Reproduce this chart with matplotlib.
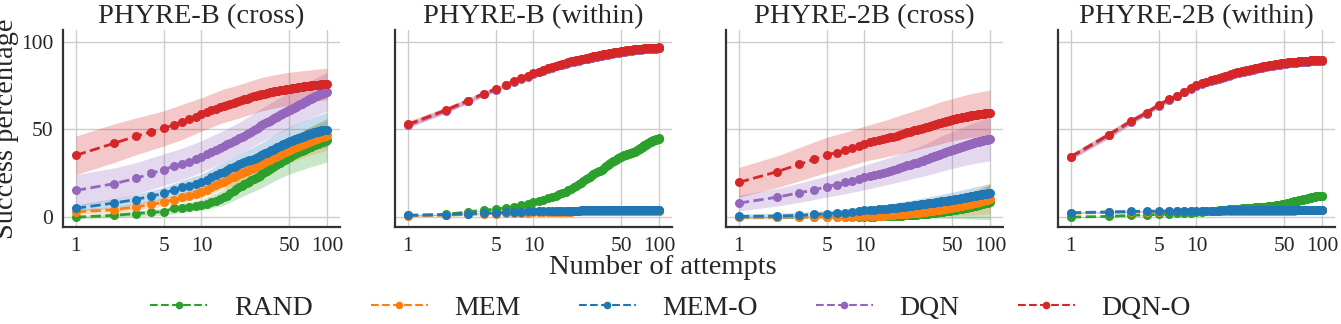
import numpy as np
import matplotlib
matplotlib.use("Agg")
import matplotlib.pyplot as plt
from matplotlib.lines import Line2D
from matplotlib.ticker import FixedLocator, NullLocator

# x values: attempt number 1..100
attempts = np.arange(1, 101)
band_attempts = [1, 2, 3, 5, 7, 10, 15, 20, 30, 40, 50, 70, 100]

methods = ["RAND", "MEM", "MEM-O", "DQN", "DQN-O"]
colors = ["#2ca02c", "#ff7f0e", "#1f77b4", "#9467bd", "#d62728"]
titles = ["PHYRE-B (cross)", "PHYRE-B (within)", "PHYRE-2B (cross)", "PHYRE-2B (within)"]

# ---------------- PHYRE-B (cross) ----------------
b_cross_rand = [
    0.0, 1.0, 2.0, 2.8, 3.0, 5.0, 5.4, 6.0, 6.6, 7.0,
    7.6, 8.4, 9.3, 10.2, 11.2, 12.3, 13.5, 14.7, 15.9, 17.0,
    17.8, 18.6, 19.4, 20.2, 21.0, 21.7, 22.4, 23.0, 23.6, 24.3,
    25.0, 25.8, 26.5, 27.0, 27.4, 27.9, 28.5, 29.1, 29.6, 30.1,
    30.6, 31.1, 31.5, 32.0, 32.4, 32.8, 33.2, 33.5, 33.8, 34.1,
    34.4, 34.8, 35.1, 35.4, 35.7, 36.0, 36.3, 36.6, 36.9, 37.1,
    37.4, 37.6, 37.9, 38.1, 38.3, 38.5, 38.8, 39.0, 39.2, 39.4,
    39.6, 39.8, 40.0, 40.2, 40.4, 40.6, 40.8, 41.0, 41.1, 41.3,
    41.5, 41.6, 41.8, 41.9, 42.1, 42.2, 42.4, 42.5, 42.7, 42.8,
    42.9, 43.0, 43.1, 43.2, 43.3, 43.4, 43.5, 43.6, 43.7, 43.8]
b_cross_mem = [
    3.0, 4.2, 5.8, 7.2, 8.6, 10.0, 11.2, 12.2, 13.2, 14.2,
    15.6, 16.9, 18.1, 19.2, 20.2, 21.2, 22.1, 22.9, 23.7, 24.5,
    25.1, 25.8, 26.4, 27.0, 27.6, 28.2, 28.8, 29.4, 29.9, 30.5,
    31.0, 31.4, 31.9, 32.3, 32.8, 33.2, 33.6, 34.0, 34.4, 34.8,
    35.2, 35.6, 35.9, 36.3, 36.6, 36.9, 37.2, 37.5, 37.8, 38.1,
    38.4, 38.7, 39.0, 39.2, 39.5, 39.7, 40.0, 40.2, 40.4, 40.6,
    40.9, 41.1, 41.3, 41.5, 41.7, 41.9, 42.1, 42.3, 42.5, 42.7,
    42.9, 43.0, 43.2, 43.4, 43.5, 43.7, 43.8, 44.0, 44.1, 44.3,
    44.4, 44.6, 44.7, 44.9, 45.0, 45.1, 45.3, 45.4, 45.5, 45.6,
    45.7, 45.8, 45.9, 46.0, 46.1, 46.2, 46.3, 46.4, 46.5, 46.6]
b_cross_memo = [
    5.0, 8.0, 10.0, 12.0, 13.5, 15.5, 17.0, 18.0, 19.0, 20.0,
    21.4, 22.6, 23.8, 24.9, 25.9, 26.8, 27.7, 28.5, 29.3, 30.0,
    30.6, 31.2, 31.8, 32.3, 32.8, 33.3, 33.8, 34.3, 34.8, 35.3,
    35.8, 36.3, 36.8, 37.2, 37.6, 38.0, 38.5, 38.9, 39.3, 39.7,
    40.0, 40.4, 40.7, 41.1, 41.4, 41.7, 42.0, 42.3, 42.6, 42.9,
    43.1, 43.4, 43.6, 43.8, 44.1, 44.3, 44.5, 44.7, 44.9, 45.1,
    45.3, 45.5, 45.7, 45.9, 46.1, 46.3, 46.4, 46.6, 46.8, 46.9,
    47.1, 47.2, 47.4, 47.5, 47.7, 47.8, 47.9, 48.1, 48.2, 48.3,
    48.4, 48.5, 48.6, 48.7, 48.8, 48.9, 49.0, 49.1, 49.2, 49.3,
    49.4, 49.4, 49.5, 49.5, 49.6, 49.6, 49.7, 49.7, 49.8, 49.8]
b_cross_dqn = [
    15.2, 19.0, 22.0, 25.0, 27.0, 29.0, 30.3, 31.5, 33.0, 34.5,
    35.8, 37.1, 38.3, 39.4, 40.4, 41.4, 42.4, 43.3, 44.2, 45.0,
    45.7, 46.4, 47.2, 47.9, 48.7, 49.5, 50.3, 51.0, 51.7, 52.4,
    52.9, 53.4, 53.9, 54.4, 54.9, 55.4, 55.9, 56.4, 56.8, 57.3,
    57.7, 58.1, 58.5, 58.9, 59.3, 59.7, 60.0, 60.3, 60.6, 60.9,
    61.2, 61.5, 61.8, 62.1, 62.4, 62.7, 63.0, 63.3, 63.6, 63.9,
    64.2, 64.5, 64.7, 65.0, 65.3, 65.5, 65.8, 66.0, 66.3, 66.5,
    66.8, 67.0, 67.2, 67.5, 67.7, 67.9, 68.1, 68.3, 68.5, 68.7,
    68.9, 69.1, 69.2, 69.4, 69.6, 69.7, 69.9, 70.0, 70.2, 70.3,
    70.4, 70.5, 70.6, 70.7, 70.8, 70.9, 71.0, 71.1, 71.2, 71.3]
b_cross_dqno = [
    35.2, 42.0, 46.0, 48.7, 50.5, 52.5, 54.2, 55.8, 57.2, 58.5,
    59.7, 60.8, 61.8, 62.7, 63.4, 64.0, 64.6, 65.1, 65.6, 66.0,
    66.5, 67.0, 67.5, 67.9, 68.3, 68.7, 69.0, 69.4, 69.7, 70.0,
    70.2, 70.4, 70.6, 70.8, 71.0, 71.2, 71.4, 71.6, 71.7, 71.9,
    72.0, 72.2, 72.3, 72.4, 72.5, 72.6, 72.7, 72.8, 72.9, 73.0,
    73.1, 73.2, 73.3, 73.4, 73.5, 73.6, 73.7, 73.8, 73.9, 74.0,
    74.1, 74.1, 74.2, 74.3, 74.4, 74.4, 74.5, 74.6, 74.6, 74.7,
    74.8, 74.8, 74.9, 74.9, 75.0, 75.0, 75.1, 75.1, 75.2, 75.2,
    75.3, 75.3, 75.4, 75.4, 75.4, 75.5, 75.5, 75.5, 75.6, 75.6,
    75.6, 75.7, 75.7, 75.7, 75.8, 75.8, 75.8, 75.8, 75.9, 75.9]
b_cross_rand_sd = [0.8, 1.2, 1.5, 2.0, 2.5, 3.0, 4.5, 6.0, 7.6, 8.6, 9.6, 11.3, 12.5]
b_cross_mem_sd = [1.5, 1.8, 2.0, 2.4, 2.8, 3.2, 4.2, 5.2, 6.2, 6.7, 7.2, 7.9, 8.5]
b_cross_memo_sd = [2.0, 2.5, 3.0, 3.5, 4.0, 4.5, 5.5, 6.0, 7.0, 8.0, 8.5, 9.0, 10.0]
b_cross_dqn_sd = [9.0, 9.0, 9.0, 9.0, 9.0, 9.0, 9.0, 9.0, 9.5, 10.0, 10.0, 10.5, 11.0]
b_cross_dqno_sd = [11.0, 11.0, 10.5, 10.0, 10.0, 9.5, 9.5, 9.5, 9.5, 9.5, 9.5, 9.0, 9.0]

# ---------------- PHYRE-B (within) ----------------
b_within_rand = [
    1.0, 1.5, 3.0, 4.0, 4.5, 5.3, 6.0, 6.8, 7.5, 8.5,
    9.2, 9.9, 10.7, 11.4, 12.1, 12.9, 13.7, 14.5, 15.3, 16.1,
    17.0, 17.9, 18.8, 19.7, 20.6, 21.5, 22.3, 23.1, 23.8, 24.5,
    25.0, 25.5, 26.0, 26.5, 27.0, 27.6, 28.3, 29.0, 29.6, 30.2,
    30.7, 31.2, 31.7, 32.2, 32.6, 33.0, 33.4, 33.7, 34.0, 34.3,
    34.6, 34.9, 35.1, 35.3, 35.5, 35.7, 35.9, 36.1, 36.3, 36.5,
    36.7, 36.9, 37.1, 37.3, 37.5, 37.8, 38.1, 38.4, 38.7, 39.0,
    39.3, 39.6, 39.9, 40.2, 40.5, 40.8, 41.0, 41.3, 41.5, 41.8,
    42.0, 42.2, 42.4, 42.6, 42.8, 43.0, 43.2, 43.4, 43.6, 43.8,
    43.9, 44.0, 44.1, 44.2, 44.3, 44.4, 44.5, 44.6, 44.7, 44.8]
b_within_mem = [
    0.8, 1.1, 1.5, 1.8, 2.0, 2.2, 2.4, 2.5, 2.6, 2.7,
    2.8, 2.8, 2.9, 2.9, 3.0, 3.0, 3.0, 3.1, 3.1, 3.1,
    3.2, 3.2, 3.2, 3.2, 3.2, 3.2, 3.2, 3.2, 3.2, 3.2,
    3.3, 3.3, 3.3, 3.3, 3.3, 3.3, 3.3, 3.3, 3.3, 3.3,
    3.4, 3.4, 3.4, 3.4, 3.4, 3.4, 3.4, 3.4, 3.4, 3.4,
    3.5, 3.5, 3.5, 3.5, 3.5, 3.5, 3.5, 3.5, 3.5, 3.5,
    3.5, 3.5, 3.5, 3.5, 3.5, 3.5, 3.5, 3.5, 3.5, 3.5,
    3.6, 3.6, 3.6, 3.6, 3.6, 3.6, 3.6, 3.6, 3.6, 3.6,
    3.6, 3.6, 3.6, 3.6, 3.6, 3.6, 3.6, 3.6, 3.6, 3.6,
    3.6, 3.6, 3.6, 3.6, 3.6, 3.6, 3.6, 3.6, 3.6, 3.6]
b_within_memo = [
    1.0, 1.4, 2.0, 2.3, 2.6, 2.8, 3.0, 3.1, 3.2, 3.3,
    3.3, 3.4, 3.4, 3.5, 3.5, 3.5, 3.6, 3.6, 3.6, 3.7,
    3.7, 3.7, 3.7, 3.8, 3.8, 3.8, 3.8, 3.8, 3.9, 3.9,
    3.9, 3.9, 3.9, 3.9, 3.9, 3.9, 4.0, 4.0, 4.0, 4.0,
    4.0, 4.0, 4.0, 4.0, 4.0, 4.0, 4.0, 4.1, 4.1, 4.1,
    4.1, 4.1, 4.1, 4.1, 4.1, 4.1, 4.1, 4.1, 4.1, 4.1,
    4.1, 4.1, 4.1, 4.1, 4.1, 4.2, 4.2, 4.2, 4.2, 4.2,
    4.2, 4.2, 4.2, 4.2, 4.2, 4.2, 4.2, 4.2, 4.2, 4.2,
    4.2, 4.2, 4.2, 4.2, 4.2, 4.2, 4.2, 4.2, 4.2, 4.2,
    4.2, 4.2, 4.2, 4.2, 4.2, 4.2, 4.2, 4.2, 4.2, 4.2]
b_within_dqn = [
    52.3, 60.5, 65.9, 69.9, 72.5, 75.0, 76.9, 78.5, 79.9, 81.3,
    82.4, 83.4, 84.3, 85.1, 85.8, 86.4, 86.9, 87.4, 87.8, 88.2,
    88.6, 88.9, 89.2, 89.5, 89.8, 90.1, 90.3, 90.6, 90.8, 91.0,
    91.2, 91.4, 91.6, 91.8, 92.0, 92.2, 92.3, 92.5, 92.6, 92.8,
    92.9, 93.0, 93.2, 93.3, 93.4, 93.5, 93.6, 93.7, 93.8, 93.9,
    94.0, 94.1, 94.2, 94.3, 94.4, 94.5, 94.5, 94.6, 94.7, 94.8,
    94.8, 94.9, 95.0, 95.0, 95.1, 95.1, 95.2, 95.2, 95.3, 95.3,
    95.4, 95.4, 95.5, 95.5, 95.5, 95.6, 95.6, 95.6, 95.7, 95.7,
    95.7, 95.8, 95.8, 95.8, 95.8, 95.9, 95.9, 95.9, 95.9, 96.0,
    96.0, 96.0, 96.0, 96.0, 96.1, 96.1, 96.1, 96.1, 96.1, 96.2]
b_within_dqno = [
    52.8, 61.0, 66.4, 70.4, 73.0, 75.5, 77.4, 79.0, 80.4, 81.8,
    82.9, 83.9, 84.8, 85.6, 86.3, 86.9, 87.4, 87.9, 88.3, 88.7,
    89.1, 89.4, 89.7, 90.0, 90.3, 90.6, 90.8, 91.1, 91.3, 91.5,
    91.7, 91.9, 92.1, 92.3, 92.5, 92.7, 92.8, 93.0, 93.1, 93.3,
    93.4, 93.5, 93.7, 93.8, 93.9, 94.0, 94.1, 94.2, 94.3, 94.4,
    94.5, 94.6, 94.7, 94.8, 94.9, 95.0, 95.0, 95.1, 95.2, 95.3,
    95.3, 95.4, 95.5, 95.5, 95.6, 95.6, 95.7, 95.7, 95.8, 95.8,
    95.9, 95.9, 96.0, 96.0, 96.0, 96.1, 96.1, 96.1, 96.2, 96.2,
    96.2, 96.3, 96.3, 96.3, 96.3, 96.4, 96.4, 96.4, 96.4, 96.5,
    96.5, 96.5, 96.5, 96.5, 96.6, 96.6, 96.6, 96.6, 96.6, 96.7]
b_within_rand_sd = [0.3, 0.4, 0.5, 0.6, 0.6, 0.7, 0.8, 0.9, 1.0, 1.0, 1.1, 1.2, 1.2]
b_within_mem_sd = [0.3, 0.3, 0.4, 0.4, 0.4, 0.4, 0.4, 0.4, 0.4, 0.4, 0.4, 0.4, 0.4]
b_within_memo_sd = [0.4, 0.4, 0.4, 0.5, 0.5, 0.5, 0.5, 0.5, 0.5, 0.5, 0.5, 0.5, 0.5]
b_within_dqn_sd = [1.5, 1.4, 1.3, 1.2, 1.1, 1.0, 0.9, 0.8, 0.7, 0.7, 0.6, 0.6, 0.6]
b_within_dqno_sd = [1.8, 1.6, 1.5, 1.3, 1.2, 1.1, 1.0, 0.9, 0.8, 0.7, 0.7, 0.6, 0.6]

# ---------------- PHYRE-2B (cross) ----------------
b2_cross_rand = [
    0.0, 0.0, 0.0, 0.1, 0.1, 0.1, 0.1, 0.2, 0.2, 0.2,
    0.3, 0.3, 0.4, 0.4, 0.5, 0.6, 0.6, 0.7, 0.8, 0.9,
    1.0, 1.1, 1.2, 1.3, 1.4, 1.4, 1.5, 1.6, 1.7, 1.8,
    1.9, 2.0, 2.1, 2.2, 2.3, 2.4, 2.5, 2.7, 2.8, 2.9,
    3.0, 3.1, 3.2, 3.3, 3.4, 3.5, 3.6, 3.7, 3.8, 3.9,
    4.0, 4.1, 4.2, 4.3, 4.4, 4.5, 4.6, 4.7, 4.8, 4.9,
    5.0, 5.1, 5.2, 5.3, 5.4, 5.5, 5.6, 5.7, 5.8, 5.9,
    6.0, 6.1, 6.2, 6.3, 6.4, 6.5, 6.6, 6.7, 6.8, 6.9,
    7.0, 7.1, 7.2, 7.3, 7.4, 7.5, 7.6, 7.7, 7.8, 7.9,
    8.0, 8.0, 8.1, 8.2, 8.2, 8.3, 8.4, 8.4, 8.5, 8.6]
b2_cross_mem = [
    0.0, 0.0, 0.1, 0.1, 0.2, 0.2, 0.3, 0.3, 0.4, 0.5,
    0.6, 0.7, 0.8, 0.9, 1.0, 1.2, 1.3, 1.5, 1.6, 1.8,
    1.9, 2.0, 2.1, 2.3, 2.4, 2.5, 2.6, 2.7, 2.9, 3.0,
    3.1, 3.3, 3.4, 3.5, 3.7, 3.8, 3.9, 4.1, 4.2, 4.3,
    4.4, 4.6, 4.7, 4.8, 4.9, 5.0, 5.1, 5.2, 5.4, 5.5,
    5.6, 5.7, 5.8, 5.9, 6.0, 6.2, 6.3, 6.4, 6.5, 6.6,
    6.7, 6.8, 6.9, 7.0, 7.1, 7.2, 7.3, 7.4, 7.5, 7.6,
    7.7, 7.8, 7.9, 8.0, 8.1, 8.2, 8.3, 8.4, 8.5, 8.6,
    8.7, 8.8, 8.9, 9.0, 9.1, 9.2, 9.3, 9.4, 9.5, 9.6,
    9.7, 9.8, 9.8, 9.9, 10.0, 10.1, 10.2, 10.2, 10.3, 10.4]
b2_cross_memo = [
    0.4, 0.6, 1.0, 1.5, 2.0, 2.3, 2.6, 3.0, 3.4, 3.8,
    4.0, 4.2, 4.4, 4.6, 4.8, 5.0, 5.2, 5.4, 5.6, 5.8,
    6.0, 6.2, 6.4, 6.5, 6.7, 6.9, 7.0, 7.2, 7.3, 7.5,
    7.6, 7.8, 7.9, 8.0, 8.2, 8.3, 8.4, 8.5, 8.7, 8.8,
    8.9, 9.0, 9.1, 9.2, 9.3, 9.4, 9.5, 9.6, 9.7, 9.8,
    9.9, 10.0, 10.1, 10.2, 10.3, 10.4, 10.5, 10.6, 10.7, 10.8,
    10.9, 11.0, 11.1, 11.2, 11.3, 11.4, 11.5, 11.6, 11.7, 11.8,
    11.9, 12.0, 12.0, 12.1, 12.2, 12.3, 12.3, 12.4, 12.5, 12.6,
    12.6, 12.7, 12.8, 12.8, 12.9, 13.0, 13.0, 13.1, 13.1, 13.2,
    13.2, 13.3, 13.3, 13.4, 13.4, 13.5, 13.5, 13.6, 13.6, 13.7]
b2_cross_dqn = [
    8.0, 11.3, 13.8, 15.5, 17.4, 18.5, 19.8, 20.8, 21.7, 22.6,
    23.3, 24.0, 24.7, 25.3, 25.9, 26.5, 27.0, 27.5, 28.0, 28.5,
    29.0, 29.4, 29.8, 30.3, 30.7, 31.1, 31.5, 31.8, 32.2, 32.5,
    32.9, 33.3, 33.6, 34.0, 34.3, 34.6, 35.0, 35.3, 35.6, 35.9,
    36.2, 36.4, 36.7, 36.9, 37.2, 37.4, 37.6, 37.8, 38.0, 38.2,
    38.4, 38.6, 38.8, 39.0, 39.2, 39.4, 39.6, 39.8, 40.0, 40.1,
    40.3, 40.5, 40.6, 40.8, 41.0, 41.1, 41.3, 41.4, 41.6, 41.7,
    41.8, 42.0, 42.1, 42.2, 42.4, 42.5, 42.6, 42.7, 42.8, 42.9,
    43.0, 43.1, 43.2, 43.3, 43.4, 43.5, 43.6, 43.7, 43.8, 43.9,
    44.0, 44.0, 44.1, 44.2, 44.2, 44.3, 44.4, 44.4, 44.5, 44.5]
b2_cross_dqno = [
    19.8, 25.8, 30.0, 33.0, 35.5, 36.8, 38.3, 39.6, 40.5, 41.8,
    42.5, 43.2, 43.8, 44.4, 44.9, 45.4, 45.9, 46.4, 46.9, 47.4,
    47.8, 48.2, 48.6, 49.0, 49.4, 49.7, 50.0, 50.3, 50.6, 50.9,
    51.2, 51.5, 51.8, 52.1, 52.4, 52.7, 52.9, 53.1, 53.4, 53.6,
    53.8, 54.0, 54.2, 54.4, 54.6, 54.8, 55.0, 55.1, 55.3, 55.5,
    55.6, 55.8, 55.9, 56.0, 56.2, 56.3, 56.4, 56.5, 56.7, 56.8,
    56.9, 57.0, 57.1, 57.2, 57.3, 57.4, 57.5, 57.6, 57.7, 57.8,
    57.9, 57.9, 58.0, 58.1, 58.2, 58.2, 58.3, 58.4, 58.4, 58.5,
    58.6, 58.6, 58.7, 58.7, 58.8, 58.8, 58.9, 58.9, 59.0, 59.0,
    59.1, 59.1, 59.2, 59.2, 59.2, 59.3, 59.3, 59.3, 59.4, 59.4]
b2_cross_rand_sd = [0.1, 0.1, 0.1, 0.2, 0.3, 0.4, 0.8, 1.2, 2.5, 3.5, 4.5, 7.0, 10.0]
b2_cross_mem_sd = [0.2, 0.2, 0.3, 0.4, 0.5, 0.6, 1.0, 1.5, 2.5, 3.5, 4.5, 6.5, 8.5]
b2_cross_memo_sd = [1.5, 1.6, 1.7, 1.8, 2.0, 2.2, 2.6, 3.0, 3.5, 4.0, 4.3, 4.8, 5.5]
b2_cross_dqn_sd = [4.5, 5.0, 5.5, 6.0, 6.5, 7.0, 7.5, 8.0, 9.0, 10.0, 10.5, 11.5, 12.5]
b2_cross_dqno_sd = [8.5, 9.0, 9.5, 10.0, 10.0, 10.0, 10.5, 11.0, 11.5, 12.0, 12.0, 12.5, 13.0]

# ---------------- PHYRE-2B (within) ----------------
b2_within_rand = [
    0.0, 0.4, 1.0, 1.3, 1.5, 1.8, 2.1, 2.3, 2.6, 2.8,
    3.0, 3.2, 3.4, 3.6, 3.8, 4.0, 4.2, 4.4, 4.5, 4.7,
    4.8, 4.9, 5.0, 5.1, 5.2, 5.3, 5.3, 5.4, 5.5, 5.5,
    5.6, 5.7, 5.8, 5.8, 5.9, 6.0, 6.1, 6.2, 6.3, 6.4,
    6.5, 6.6, 6.7, 6.8, 6.9, 7.0, 7.1, 7.2, 7.3, 7.4,
    7.6, 7.7, 7.9, 8.0, 8.2, 8.3, 8.5, 8.6, 8.8, 8.9,
    9.0, 9.1, 9.3, 9.4, 9.5, 9.6, 9.7, 9.8, 9.9, 10.0,
    10.1, 10.2, 10.3, 10.4, 10.5, 10.6, 10.7, 10.8, 10.9, 11.0,
    11.1, 11.2, 11.3, 11.4, 11.5, 11.5, 11.6, 11.7, 11.8, 11.8,
    11.9, 11.9, 12.0, 12.0, 12.1, 12.1, 12.2, 12.2, 12.3, 12.3]
b2_within_mem = [
    2.2, 2.7, 2.9, 3.1, 3.1, 3.2, 3.2, 3.3, 3.3, 3.3,
    3.4, 3.4, 3.4, 3.4, 3.4, 3.4, 3.4, 3.4, 3.4, 3.4,
    3.5, 3.5, 3.5, 3.5, 3.5, 3.5, 3.5, 3.5, 3.5, 3.5,
    3.6, 3.6, 3.6, 3.6, 3.6, 3.6, 3.6, 3.6, 3.6, 3.6,
    3.7, 3.7, 3.7, 3.7, 3.7, 3.7, 3.7, 3.7, 3.7, 3.7,
    3.7, 3.7, 3.7, 3.7, 3.7, 3.7, 3.7, 3.7, 3.7, 3.7,
    3.8, 3.8, 3.8, 3.8, 3.8, 3.8, 3.8, 3.8, 3.8, 3.8,
    3.8, 3.8, 3.8, 3.8, 3.8, 3.8, 3.8, 3.8, 3.8, 3.8,
    3.9, 3.9, 3.9, 3.9, 3.9, 3.9, 3.9, 3.9, 3.9, 3.9,
    3.9, 3.9, 3.9, 3.9, 3.9, 3.9, 3.9, 3.9, 3.9, 3.9]
b2_within_memo = [
    2.5, 3.0, 3.2, 3.4, 3.4, 3.5, 3.5, 3.6, 3.6, 3.6,
    3.7, 3.7, 3.7, 3.7, 3.7, 3.8, 3.8, 3.8, 3.8, 3.8,
    3.8, 3.8, 3.8, 3.8, 3.8, 3.9, 3.9, 3.9, 3.9, 3.9,
    3.9, 3.9, 3.9, 3.9, 3.9, 3.9, 3.9, 3.9, 3.9, 3.9,
    4.0, 4.0, 4.0, 4.0, 4.0, 4.0, 4.0, 4.0, 4.0, 4.0,
    4.0, 4.0, 4.0, 4.0, 4.0, 4.1, 4.1, 4.1, 4.1, 4.1,
    4.1, 4.1, 4.1, 4.1, 4.1, 4.1, 4.1, 4.1, 4.1, 4.1,
    4.1, 4.1, 4.1, 4.1, 4.1, 4.1, 4.1, 4.1, 4.1, 4.1,
    4.2, 4.2, 4.2, 4.2, 4.2, 4.2, 4.2, 4.2, 4.2, 4.2,
    4.2, 4.2, 4.2, 4.2, 4.2, 4.2, 4.2, 4.2, 4.2, 4.2]
b2_within_dqn = [
    34.0, 46.5, 54.2, 58.9, 63.5, 66.5, 68.7, 71.0, 72.9, 74.7,
    75.8, 76.7, 77.5, 78.2, 78.9, 79.5, 80.0, 80.5, 81.0, 81.5,
    81.9, 82.3, 82.6, 82.9, 83.2, 83.5, 83.8, 84.0, 84.3, 84.5,
    84.7, 84.9, 85.1, 85.3, 85.5, 85.6, 85.8, 85.9, 86.1, 86.2,
    86.3, 86.5, 86.6, 86.7, 86.8, 86.9, 87.0, 87.1, 87.2, 87.3,
    87.4, 87.4, 87.5, 87.6, 87.6, 87.7, 87.8, 87.8, 87.9, 87.9,
    88.0, 88.0, 88.1, 88.1, 88.2, 88.2, 88.3, 88.3, 88.3, 88.4,
    88.4, 88.5, 88.5, 88.5, 88.6, 88.6, 88.6, 88.7, 88.7, 88.7,
    88.8, 88.8, 88.8, 88.8, 88.9, 88.9, 88.9, 88.9, 89.0, 89.0,
    89.0, 89.0, 89.0, 89.1, 89.1, 89.1, 89.1, 89.1, 89.2, 89.2]
b2_within_dqno = [
    34.5, 47.0, 54.7, 59.4, 64.0, 67.0, 69.2, 71.5, 73.4, 75.2,
    76.3, 77.2, 78.0, 78.7, 79.4, 80.0, 80.5, 81.0, 81.5, 82.0,
    82.4, 82.8, 83.1, 83.4, 83.7, 84.0, 84.3, 84.5, 84.8, 85.0,
    85.2, 85.4, 85.6, 85.8, 86.0, 86.1, 86.3, 86.4, 86.6, 86.7,
    86.8, 87.0, 87.1, 87.2, 87.3, 87.4, 87.5, 87.6, 87.7, 87.8,
    87.9, 87.9, 88.0, 88.1, 88.1, 88.2, 88.3, 88.3, 88.4, 88.4,
    88.5, 88.5, 88.6, 88.6, 88.7, 88.7, 88.8, 88.8, 88.8, 88.9,
    88.9, 89.0, 89.0, 89.0, 89.1, 89.1, 89.1, 89.2, 89.2, 89.2,
    89.3, 89.3, 89.3, 89.3, 89.4, 89.4, 89.4, 89.4, 89.5, 89.5,
    89.5, 89.5, 89.5, 89.6, 89.6, 89.6, 89.6, 89.6, 89.7, 89.7]
b2_within_rand_sd = [0.2, 0.3, 0.3, 0.4, 0.4, 0.5, 0.5, 0.6, 0.7, 0.8, 0.9, 1.0, 1.2]
b2_within_mem_sd = [0.4, 0.4, 0.4, 0.4, 0.4, 0.4, 0.4, 0.4, 0.4, 0.4, 0.4, 0.4, 0.4]
b2_within_memo_sd = [0.5, 0.5, 0.5, 0.5, 0.5, 0.5, 0.5, 0.5, 0.5, 0.5, 0.5, 0.5, 0.5]
b2_within_dqn_sd = [1.5, 1.8, 1.8, 1.6, 1.4, 1.2, 1.0, 0.9, 0.8, 0.7, 0.7, 0.6, 0.6]
b2_within_dqno_sd = [1.5, 1.8, 1.8, 1.6, 1.4, 1.2, 1.0, 0.9, 0.8, 0.7, 0.7, 0.6, 0.6]

panel_means = [
    [b_cross_rand, b_cross_mem, b_cross_memo, b_cross_dqn, b_cross_dqno],
    [b_within_rand, b_within_mem, b_within_memo, b_within_dqn, b_within_dqno],
    [b2_cross_rand, b2_cross_mem, b2_cross_memo, b2_cross_dqn, b2_cross_dqno],
    [b2_within_rand, b2_within_mem, b2_within_memo, b2_within_dqn, b2_within_dqno],
]
panel_sds = [
    [b_cross_rand_sd, b_cross_mem_sd, b_cross_memo_sd, b_cross_dqn_sd, b_cross_dqno_sd],
    [b_within_rand_sd, b_within_mem_sd, b_within_memo_sd, b_within_dqn_sd, b_within_dqno_sd],
    [b2_cross_rand_sd, b2_cross_mem_sd, b2_cross_memo_sd, b2_cross_dqn_sd, b2_cross_dqno_sd],
    [b2_within_rand_sd, b2_within_mem_sd, b2_within_memo_sd, b2_within_dqn_sd, b2_within_dqno_sd],
]

plt.rcParams["font.family"] = ["Liberation Serif", "DejaVu Serif"]
text_color = "#262626"

fig = plt.figure(figsize=(13.41, 3.24), dpi=100)
lefts = [0.047, 0.2946, 0.5414, 0.789]
band_idx = np.array(band_attempts) - 1

for i, title in enumerate(titles):
    ax = fig.add_axes([lefts[i], 0.299, 0.2066, 0.608])
    ax.set_xscale("log")

    # shaded spread first, then the lines on top
    for mean, sd, color in zip(panel_means[i], panel_sds[i], colors):
        m = np.array(mean)[band_idx]
        s = np.array(sd)
        ax.fill_between(band_attempts, m - s, m + s, color=color, alpha=0.25, lw=0)
    for mean, color, name in zip(panel_means[i], colors, methods):
        assert len(mean) == 100, name
        ax.plot(attempts, mean, linestyle="--", marker="o", color=color,
                lw=2, ms=6.5, mew=0, label=name)

    ax.set_xlim(0.79, 127)
    ax.set_ylim(-5.7, 106.5)
    ax.xaxis.set_major_locator(FixedLocator([1, 5, 10, 50, 100]))
    ax.xaxis.set_minor_locator(NullLocator())
    ax.set_xticklabels(["1", "5", "10", "50", "100"])
    ax.set_yticks([0, 50, 100])
    ax.tick_params(length=0, pad=7, labelsize=15.5, colors=text_color)
    if i > 0:
        ax.tick_params(labelleft=False)

    ax.grid(True, color="#cccccc", lw=1)
    ax.set_axisbelow(True)
    for side in ["top", "right"]:
        ax.spines[side].set_visible(False)
    for side in ["left", "bottom"]:
        ax.spines[side].set_color("#333333")
        ax.spines[side].set_linewidth(1.6)

    ax.set_title(title, fontsize=20.5, color=text_color, pad=5)
    if i == 0:
        ax.set_ylabel("Success percentage", fontsize=20.5, color=text_color)
        ax.yaxis.set_label_coords(-0.159, 0.5)

fig.text(0.494, 0.173, "Number of attempts", ha="center", va="center",
         fontsize=20.5, color=text_color)

handles = [Line2D([], [], linestyle="--", marker="o", color=c, lw=1.5, ms=5.5, mew=0)
           for c in colors]
fig.legend(handles, methods, loc="center", bbox_to_anchor=(0.5, 0.05), ncol=5,
           frameon=False, fontsize=20, handlelength=2.05, handletextpad=0.95,
           columnspacing=2.1, labelcolor=text_color)

fig.savefig("out.png", dpi=100)
